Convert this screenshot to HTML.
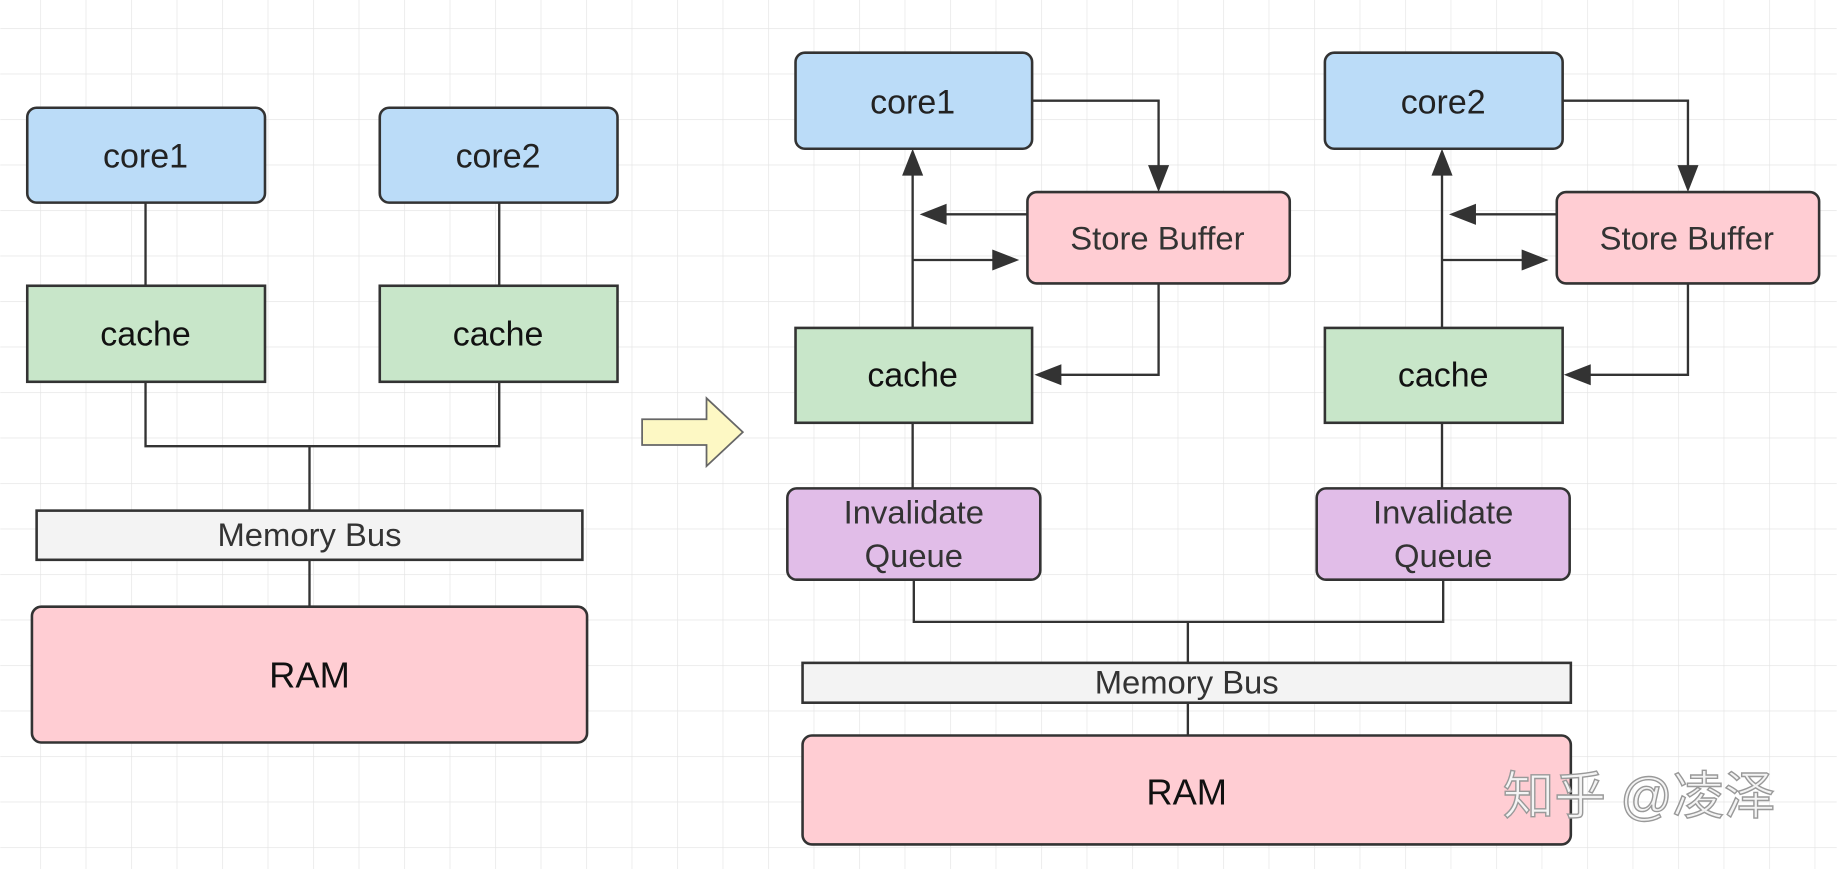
<!DOCTYPE html>
<html><head><meta charset="utf-8"><style>
html,body{margin:0;padding:0;background:#fff;width:1837px;height:869px;overflow:hidden}
svg text{font-family:"Liberation Sans","Noto Sans CJK SC",sans-serif;fill:#222}
</style></head><body>
<svg width="1837" height="869" viewBox="0 0 1568 742" xmlns="http://www.w3.org/2000/svg">
<defs>
<pattern id="g" x="34" y="24" width="38.85" height="38.85" patternUnits="userSpaceOnUse">
<path d="M0 0H38.85M0 0V38.85" stroke="#e6e6e6" stroke-width="1.2" fill="none"/>
</pattern>
<marker id="a" markerWidth="10" markerHeight="10" refX="9" refY="5" orient="auto" markerUnits="userSpaceOnUse" viewBox="0 0 10 10">
</marker>
</defs>
<rect width="1568" height="742" fill="#fff"/>
<rect width="1568" height="742" fill="url(#g)"/>
<g stroke="#333" stroke-width="2" fill="none">
<!-- left lines -->
<path d="M124 173V244M426 173V244M124 326V381H426V326M264 381V436M264 478V518"/>
<!-- right lines -->
<path d="M779 280V148M881 86H989V146M877 183H806M779 222H848M989 242V320H905M779 361V417M780 495V531H1232V495M1014 531V566M1014 600V628"/>
<path d="M1231 280V148M1333 86H1441V146M1329 183H1258M1231 222H1300M1441 242V320H1357M1231 361V417"/>
</g>
<g fill="#333">
<path d="M779 127L770 150H788Z"/><path d="M989 164L980 141H998Z"/><path d="M785 183L808 174V192Z"/><path d="M870 222L847 213V231Z"/><path d="M883 320L906 311V329Z"/>
<path d="M1231 127L1222 150H1240Z"/><path d="M1441 164L1432 141H1450Z"/><path d="M1237 183L1260 174V192Z"/><path d="M1322 222L1299 213V231Z"/><path d="M1335 320L1358 311V329Z"/>
</g>
<g stroke="#333" stroke-width="2.2">
<rect x="23" y="92" width="203" height="81" rx="8" fill="#bbdcf8"/>
<rect x="324" y="92" width="203" height="81" rx="8" fill="#bbdcf8"/>
<rect x="23" y="244" width="203" height="82" fill="#c8e6c9"/>
<rect x="324" y="244" width="203" height="82" fill="#c8e6c9"/>
<rect x="31" y="436" width="466" height="42" fill="#f3f3f3"/>
<rect x="27" y="518" width="474" height="116" rx="8" fill="#ffcdd3"/>
<rect x="679" y="45" width="202" height="82" rx="8" fill="#bbdcf8"/>
<rect x="1131" y="45" width="203" height="82" rx="8" fill="#bbdcf8"/>
<rect x="877" y="164" width="224" height="78" rx="8" fill="#ffcdd3"/>
<rect x="1329" y="164" width="224" height="78" rx="8" fill="#ffcdd3"/>
<rect x="679" y="280" width="202" height="81" fill="#c8e6c9"/>
<rect x="1131" y="280" width="203" height="81" fill="#c8e6c9"/>
<rect x="672" y="417" width="216" height="78" rx="8" fill="#e1bde8"/>
<rect x="1124" y="417" width="216" height="78" rx="8" fill="#e1bde8"/>
<rect x="685" y="566" width="656" height="34" fill="#f3f3f3"/>
<rect x="685" y="628" width="656" height="93" rx="8" fill="#ffcdd3"/>
</g>
<path d="M548 358H603V340L634 369L603 398V380H548Z" fill="#fdf8c4" stroke="#666" stroke-width="1.5"/>
<g text-anchor="middle" font-size="29">
<text x="124" y="143" fill="#2a3440">core1</text>
<text x="425" y="143" fill="#2a3440">core2</text>
<text x="124" y="295" style="fill:#111">cache</text>
<text x="425" y="295" style="fill:#111">cache</text>
<text x="264" y="466" font-size="28" style="fill:#333">Memory Bus</text>
<text x="264" y="587" font-size="31" style="fill:#111">RAM</text>
<text x="779" y="97" fill="#2a3440">core1</text>
<text x="1232" y="97" fill="#2a3440">core2</text>
<text x="988" y="213" font-size="28" style="fill:#333">Store Buffer</text>
<text x="1440" y="213" font-size="28" style="fill:#333">Store Buffer</text>
<text x="779" y="330" style="fill:#111">cache</text>
<text x="1232" y="330" style="fill:#111">cache</text>
<text x="780" y="447" font-size="28" style="fill:#333">Invalidate</text>
<text x="780" y="484" font-size="28" style="fill:#333">Queue</text>
<text x="1232" y="447" font-size="28" style="fill:#333">Invalidate</text>
<text x="1232" y="484" font-size="28" style="fill:#333">Queue</text>
<text x="1013" y="592" font-size="28" style="fill:#333">Memory Bus</text>
<text x="1013" y="687" font-size="31" style="fill:#111">RAM</text>
</g>
<text x="1283" y="695" font-size="44" style="fill:#f4f4f4;stroke:#999;stroke-width:1.2">知乎 @凌泽</text>
</svg>
</body></html>
